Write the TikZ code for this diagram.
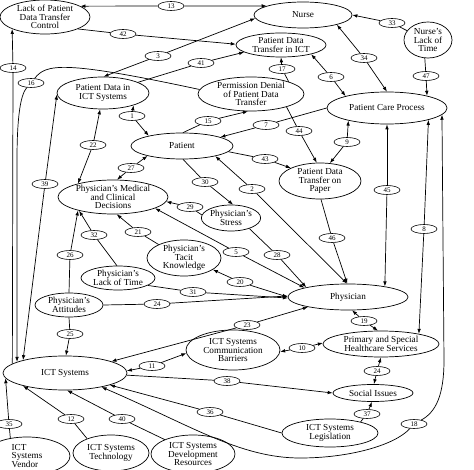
\documentclass[tikz,border=0pt]{standalone}
\usepackage{fontspec}
\setmainfont{Liberation Serif}
\usetikzlibrary{shapes.geometric,arrows.meta}
\begin{document}
\begin{tikzpicture}[x=1pt,y=-1pt,
  box/.style={ellipse, draw, line width=0.7pt, inner sep=0pt, align=center, fill=white,
    font=\fontsize{9.2}{8.4}\selectfont},
  lab/.style={ellipse, draw, line width=0.6pt, inner sep=0pt, minimum width=26pt,
    minimum height=9pt, fill=white, font=\fontsize{7}{7}\selectfont},
  conn/.style={line width=0.7pt},
  >={Latex[length=5pt,width=3.6pt]}]
\useasboundingbox (0,0) rectangle (474,470);
% main nodes
\node[box, minimum width=90pt, minimum height=34pt] (LPDTC) at (45,17) {Lack of Patient\\Data Transfer\\Control};
\node[box, minimum width=98pt, minimum height=26pt] (Nurse) at (303,15) {Nurse};
\node[box, minimum width=48pt, minimum height=36pt] (NLT) at (428,40) {Nurse's\\Lack of\\Time};
\node[box, minimum width=90pt, minimum height=24pt] (PDTICT) at (281,45) {Patient Data\\Transfer in ICT};
\node[box, minimum width=92pt, minimum height=32pt] (PDICT) at (103,93) {Patient Data in\\ICT Systems};
\node[box, minimum width=106pt, minimum height=34pt] (PD) at (251,94) {Permission Denial\\of Patient Data\\Transfer};
\node[box, minimum width=120pt, minimum height=32pt] (PCP) at (387,108) {Patient Care Process};
\node[box, minimum width=102pt, minimum height=26pt] (Patient) at (182,146) {Patient};
\node[box, minimum width=82pt, minimum height=36pt] (PDTP) at (320,181) {Patient Data\\Transfer on\\Paper};
\node[box, minimum width=110pt, minimum height=34pt] (PMCD) at (113,197) {Physician's Medical\\and Clinical\\Decisions};
\node[box, minimum width=56pt, minimum height=26pt] (Stress) at (231,218) {Physician's\\Stress};
\node[box, minimum width=74pt, minimum height=36pt] (Tacit) at (184,258) {Physician's\\Tacit\\Knowledge};
\node[box, minimum width=74pt, minimum height=24pt] (LoT) at (118,278) {Physician's\\Lack of Time};
\node[box, minimum width=68pt, minimum height=24pt] (Att) at (69,305) {Physician's\\Attitudes};
\node[box, minimum width=120pt, minimum height=26pt] (Physician) at (348,297) {Physician};
\node[box, minimum width=116pt, minimum height=26pt] (Primary) at (381,344) {Primary and Special\\Healthcare Services};
\node[box, minimum width=94pt, minimum height=40pt] (CommB) at (233,350) {ICT Systems\\Communication\\Barriers};
\node[box, minimum width=124pt, minimum height=34pt] (ICTS) at (65,373) {ICT Systems};
\node[box, minimum width=80pt, minimum height=17pt] (Social) at (373,393) {Social Issues};
\node[box, minimum width=96pt, minimum height=28pt] (Legis) at (330,433) {ICT Systems\\Legislation};
\node[box, minimum width=86pt, minimum height=38pt, align=left] (Vendor) at (27,456) {ICT\\Systems\\Vendor};
\node[box, minimum width=76pt, minimum height=36pt] (Tech) at (111,453) {ICT Systems\\Technology};
\node[box, minimum width=84pt, minimum height=38pt] (DevRes) at (193,454) {ICT Systems\\Development\\Resources};
% edge labels
\node[lab] (l13) at (171,6) {13};
\node[lab] (l42) at (123,34) {42};
\node[lab] (l3) at (158,56) {3};
\node[lab] (l41) at (201,63) {41};
\node[lab] (l14) at (13,68) {14};
\node[lab] (l16) at (31,83) {16};
\node[lab] (l1) at (132,116) {1};
\node[lab] (l15) at (208,121) {15};
\node[lab] (l17) at (282,69) {17};
\node[lab] (l6) at (331,77) {6};
\node[lab] (l34) at (364,58) {34};
\node[lab] (l33) at (392,23) {33};
\node[lab] (l47) at (426,76) {47};
\node[lab] (l7) at (266,125) {7};
\node[lab] (l44) at (299,131) {44};
\node[lab] (l9) at (347,142) {9};
\node[lab] (l43) at (265,159) {43};
\node[lab] (l27) at (131,168) {27};
\node[lab] (l22) at (93,145) {22};
\node[lab] (l39) at (45,184) {39};
\node[lab] (l30) at (205,182) {30};
\node[lab] (l2) at (252,189) {2};
\node[lab] (l45) at (387,190) {45};
\node[lab] (l29) at (190,207) {29};
\node[lab] (l8) at (424,229) {8};
\node[lab] (l46) at (332,238) {46};
\node[lab] (l21) at (138,232) {21};
\node[lab] (l32) at (94,235) {32};
\node[lab] (l5) at (236,252) {5};
\node[lab] (l26) at (70,255) {26};
\node[lab] (l28) at (277,255) {28};
\node[lab] (l20) at (240,282) {20};
\node[lab] (l31) at (193,292) {31};
\node[lab] (l24a) at (157,304) {24};
\node[lab] (l25) at (70,334) {25};
\node[lab] (l23) at (247,325) {23};
\node[lab] (l19) at (364,321) {19};
\node[lab] (l10) at (302,348) {10};
\node[lab] (l11) at (152,366) {11};
\node[lab] (l24b) at (377,371) {24};
\node[lab] (l38) at (227,381) {38};
\node[lab] (l36) at (210,412) {36};
\node[lab] (l37) at (367,414) {37};
\node[lab] (l18) at (414,424) {18};
\node[lab] (l35) at (9,424) {35};
\node[lab] (l12) at (71,419) {12};
\node[lab] (l40) at (122,419) {40};
% connectors
\draw[conn,->] (l13) -- (LPDTC.17);  \draw[conn,->] (l13) -- (Nurse.166);
\draw[conn] (l42) -- (LPDTC.-20);    \draw[conn,->] (l42) -- (PDTICT.179);
\draw[conn,->] (l3) -- (Nurse.184);  \draw[conn,->] (l3) -- (PDICT.88);
\draw[conn] (l41) -- (PDICT.17);     \draw[conn,->] (l41) -- (PDTICT.191);
\draw[conn] (l14) -- (ICTS.170);     \draw[conn,->] (l14) -- (LPDTC.200);
\draw[conn,->] (l16) .. controls (20,95) and (17,120) .. (17,160) -- (ICTS.167);
\draw[conn] (l16) .. controls (46,64) and (62,60) .. (PD.175);
\draw[conn,->] (l39) -- (PDICT.182); \draw[conn,->] (l39) -- (ICTS.163);
\draw[conn,->] (l1) -- (PDICT.-22);  \draw[conn,->] (l1) -- (Patient.163);
\draw[conn] (l15) -- (Patient.86);   \draw[conn,->] (l15) -- (PD.260);
\draw[conn] (l17) -- (PD.18);        \draw[conn,->] (l17) -- (PDTICT.270);
\draw[conn,->] (l6) -- (PDTICT.-17); \draw[conn,->] (l6) -- (PCP.164);
\draw[conn,->] (l34) -- (Nurse.-16); \draw[conn,->] (l34) -- (PCP.90);
\draw[conn] (l33) -- (NLT.156);      \draw[conn,->] (l33) -- (Nurse.0);
\draw[conn] (l47) -- (NLT.260);      \draw[conn,->] (l47) -- (PCP.17);
\draw[conn] (l7) -- (PCP.180);       \draw[conn,->] (l7) -- (Patient.13);
\draw[conn] (l44) -- (PD.-20);       \draw[conn,->] (l44) -- (PDTP.100);
\draw[conn,->] (l9) -- (PCP.198);    \draw[conn,->] (l9) -- (PDTP.61);
\draw[conn] (l43) -- (Patient.-7);   \draw[conn,->] (l43) -- (PDTP.156);
\draw[conn,->] (l45) -- (PCP.270);   \draw[conn,->] (l45) -- (Physician.16);
\draw[conn,->] (l8) -- (PCP.-16);    \draw[conn,->] (l8) -- (Primary.15);
\draw[conn,->] (l18) .. controls (436,412) and (444,395) .. (444,360) -- (PCP.-7);
\draw[conn,->] (l18) .. controls (395,445) and (350,458) .. (300,458) .. controls (240,458) and (190,425) .. (ICTS.-21);
\draw[conn,->] (l27) -- (Patient.196); \draw[conn,->] (l27) -- (PMCD.77);
\draw[conn,->] (l22) -- (PDICT.260); \draw[conn,->] (l22) -- (PMCD.159);
\draw[conn] (l30) -- (Patient.274);  \draw[conn,->] (l30) -- (Stress.81);
\draw[conn,->] (l2) -- (Patient.-17); \draw[conn,->] (l2) -- (Physician.94);
\draw[conn] (l29) -- (Stress.174);   \draw[conn,->] (l29) -- (PMCD.-5);
\draw[conn] (l46) -- (PDTP.273);     \draw[conn,->] (l46) -- (Physician.93);
\draw[conn] (l21) -- (Tacit.152);    \draw[conn,->] (l21) -- (PMCD.-78);
\draw[conn] (l32) -- (LoT.95);       \draw[conn,->] (l32) -- (PMCD.202);
\draw[conn,->] (l5) -- (Physician.168); \draw[conn,->] (l5) -- (PMCD.-15);
\draw[conn] (l26) -- (Att.90);       \draw[conn,->] (l26) -- (PMCD.201);
\draw[conn] (l28) -- (Stress.-30);   \draw[conn,->] (l28) -- (Physician.167);
\draw[conn,->] (l20) -- (Tacit.-22); \draw[conn,->] (l20) -- (Physician.180);
\draw[conn] (l31) -- (LoT.-14);      \draw[conn,->] (l31) -- (Physician.181);
\draw[conn] (l24a) -- (Att.0);       \draw[conn,->] (l24a) -- (Physician.179);
\draw[conn] (l25) -- (Att.270);      \draw[conn,->] (l25) -- (ICTS.87);
\draw[conn,->] (l23) -- (ICTS.14);   \draw[conn,->] (l23) -- (Physician.194);
\draw[conn,->] (l19) -- (Physician.-73); \draw[conn,->] (l19) -- (Primary.103);
\draw[conn,->] (l10) -- (CommB.-2);  \draw[conn,->] (l10) -- (Primary.179);
\draw[conn,->] (l11) -- (ICTS.2);    \draw[conn,->] (l11) -- (CommB.184);
\draw[conn,->] (l24b) -- (Primary.270); \draw[conn,->] (l24b) -- (Social.84);
\draw[conn] (l38) -- (ICTS.-2);      \draw[conn,->] (l38) -- (Social.180);
\draw[conn,->] (l36) -- (ICTS.-15);  \draw[conn] (l36) -- (Legis.180);
\draw[conn] (l37) -- (Legis.20);     \draw[conn,->] (l37) -- (Social.263);
\draw[conn] (l35) -- (Vendor.133);   \draw[conn,->] (l35) -- (ICTS.185);
\draw[conn] (l12) -- (Tech.149);     \draw[conn,->] (l12) -- (ICTS.197);
\draw[conn] (l40) -- (DevRes.153);   \draw[conn,->] (l40) -- (ICTS.-83);
\end{tikzpicture}
\end{document}
